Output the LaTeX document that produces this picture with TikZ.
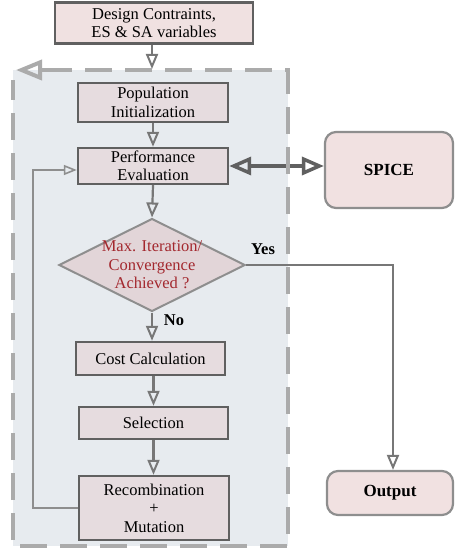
\documentclass[tikz,border=0pt]{standalone}
\usepackage{fontspec}
\setmainfont{Liberation Serif}
\usetikzlibrary{arrows.meta,shapes.geometric,calc}
\definecolor{boxfill}{HTML}{E6DCDF}
\definecolor{topfill}{HTML}{F0E1E1}
\definecolor{roundfill}{HTML}{F1E1E1}
\definecolor{diafill}{HTML}{E2D5D8}
\definecolor{regionfill}{HTML}{E7EBEF}
\definecolor{darkline}{HTML}{606060}
\definecolor{midline}{HTML}{8E8E8E}
\definecolor{arrline}{HTML}{777777}
\definecolor{dashline}{HTML}{ABABAB}
\definecolor{redtext}{HTML}{A3282E}
\tikzset{
  txt/.style={font=\fontsize{16.5}{18.5}\selectfont, align=center},
  stepbox/.style={txt, draw=darkline, line width=2.4pt, fill=boxfill, inner sep=0pt},
  roundbox/.style={txt, draw=midline, line width=2.2pt, fill=roundfill, rounded corners=11pt, inner sep=0pt, font=\fontsize{17}{19}\selectfont\bfseries},
  decision/.style={txt, diamond, aspect=2, draw=midline, line width=2pt, fill=diafill, inner sep=-6pt, text=redtext},
  flow/.style={draw=arrline, line width=2.2pt, -{Triangle[open, length=15pt, width=12pt, line width=2pt]}},
  loopline/.style={draw=midline, line width=1.8pt, -{Triangle[open, length=13pt, width=10pt, line width=1.6pt]}},
  label/.style={font=\fontsize{16.5}{18.5}\selectfont\bfseries}
}
\begin{document}
\begin{tikzpicture}[x=1pt, y=-1pt]
\useasboundingbox (0,0) rectangle (474,553);
% region
\fill[regionfill] (13,70) rectangle (288,546);
% nodes
\node[stepbox, fill=topfill, minimum width=198pt, minimum height=41pt] (top) at (154,23) {Design Contraints,\\ES \& SA variables};
\node[stepbox, minimum width=150pt, minimum height=39pt] (pop) at (153,102.5) {Population\\Initialization};
\node[stepbox, minimum width=150pt, minimum height=36pt] (perf) at (153,166) {Performance\\Evaluation};
\node[roundbox, minimum width=128pt, minimum height=76pt] (spice) at (389,170) {SPICE};
\node[decision, minimum width=186pt, minimum height=93pt] (dec) at (152,265) {Max. Iteration/\\Convergence\\Achieved ?};
\node[stepbox, minimum width=149pt, minimum height=33pt] (cost) at (150.5,358.5) {Cost Calculation};
\node[stepbox, minimum width=149pt, minimum height=32pt] (sel) at (153.5,423) {Selection};
\node[stepbox, minimum width=150pt, minimum height=64pt] (rec) at (154,508) {Recombination\\+\\Mutation};
\node[roundbox, minimum width=126pt, minimum height=44pt] (out) at (390,493) {Output};
\node[label] (yes) at (263,249) {Yes};
\node[label] (no) at (174,320) {No};
% connectors
\coordinate (rin) at (152,69);
\draw[flow] (top.south -| rin) -- (rin);
\draw[flow] (pop.south) -- (perf.north);
\draw[flow] (perf.south) -- (dec.north);
\draw[flow] (dec.south) -- (dec.south |- cost.north);
\draw[flow] (cost.south -| sel.north) -- (sel.north);
\draw[flow] (sel.south) -- (sel.south |- rec.north);
\coordinate (yescol) at (393,265);
\draw[flow] (dec.east) -- (yescol) -- (yescol |- out.north);
\coordinate (fbx) at (33,508);
\coordinate (fbin) at ($(perf.west)+(0,4)$);
\draw[loopline] (rec.west) -- (fbx) -- (fbx |- fbin) -- (fbin);
\draw[draw=darkline, line width=4pt, {Triangle[open, length=22pt, width=18pt, line width=3.5pt]}-{Triangle[open, length=22pt, width=18pt, line width=3.5pt]}] (perf.east) -- (perf.east -| spice.west);
% dashed border of region
\draw[dashline, line width=4.5pt, dash pattern=on 27pt off 13pt] (45,70) -- (288,70) -- (288,546) -- (13,546) -- (13,80);
\coordinate (rtip) at (16,70);
\coordinate (rtail) at (50,70);
\draw[dashline, line width=4.5pt, -{Triangle[open, length=26pt, width=20pt, line width=4pt]}] (rtail) -- (rtip);
\end{tikzpicture}
\end{document}
